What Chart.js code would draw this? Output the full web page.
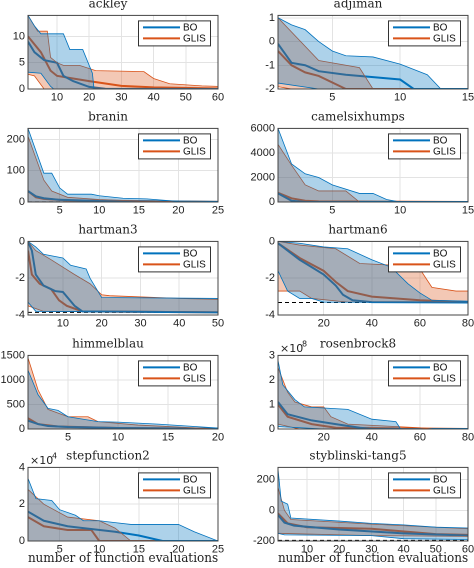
<!DOCTYPE html>
<html>
<head>
<meta charset="utf-8">
<script src="https://cdn.jsdelivr.net/npm/chart.js@4"></script>
<style>
body { margin: 0; background: #fff; }
#wrap { position: relative; width: 474px; height: 568px; overflow: hidden; }
canvas { position: absolute; }
.xl { position: absolute; font: 12px "DejaVu Serif", serif; color: #222; width: 220px; text-align: center; }
</style>
</head>
<body>
<div id="wrap"></div>
<script>
// data: [x, y] pairs per curve
var names = ["ackley", "adjiman", "branin", "camelsixhumps", "hartman3", "hartman6", "himmelblau", "rosenbrock8", "stepfunction2", "styblinski-tang5"];
var xMax = [60, 15, 25, 15, 50, 80, 20, 80, 25, 60];
var yMin = [0, -2, 0, 0, -4, -4, 0, 0, 0, -200];
var yMax = [14, 1.1, 235, 6000, 0, 0, 1500, 3, 4, 280];
var xTicks = [[10,20,30,40,50,60],[5,10,15],[5,10,15,20,25],[5,10,15],[10,20,30,40,50],[20,40,60,80],[5,10,15,20],[20,40,60,80],[5,10,15,20,25],[10,20,30,40,50,60]];
var yTicks = [[0,5,10],[-2,-1,0,1],[0,100,200],[0,2000,4000,6000],[-4,-2,0],[-4,-2,0],[0,500,1000,1500],[0,1,2,3],[0,2,4],[-200,0,200]];
var exponent = [null, null, null, null, null, null, null, "8", "4", null];
var optimum = [0, -2.02, 0.4, -1.03, -3.86, -3.32, 0, 0, 0, -195.8];

var boMean = [
  [[1,9],[3,7],[6,5.5],[10,5],[12,2.5],[15,1.5],[20,0.4],[25,0.05],[60,0]],
  [[1,-0.1],[2,-0.9],[3,-1],[4,-1.25],[6,-1.4],[10,-1.6],[11,-2],[15,-2]],
  [[1,35],[2,18],[3,12],[5,7],[10,3],[25,0.5]],
  [[1,700],[2,100],[3,0],[15,0]],
  [[1,0],[2,-0.5],[3,-1.8],[5,-2.4],[8,-2.7],[10,-2.75],[13,-3.5],[15,-3.8],[50,-3.86]],
  [[1,-0.1],[10,-1],[15,-1.4],[20,-1.8],[25,-2.4],[28,-2.9],[32,-3.2],[40,-3.3],[80,-3.32]],
  [[1,170],[2,100],[3,60],[5,40],[10,20],[20,5]],
  [[1,1.1],[5,0.6],[15,0.35],[25,0.2],[35,0.05],[40,0],[80,0]],
  [[1,1.6],[3,1.1],[6,0.8],[8,0.7],[12,0.5],[15,0.3],[18,0],[25,0]],
  [[1,-30],[3,-80],[6,-100],[20,-125],[40,-150],[60,-165]]
];
var boHi = [
  [[1,14],[3,12],[5,10.5],[12,10.5],[14,7.5],[18,7.5],[21,3],[21.5,0],[60,0]],
  [[1,1],[2,0.7],[3,0.5],[4,0],[5,-0.4],[6,-0.6],[8,-0.65],[10,-0.95],[12,-1.4],[13,-2],[15,-2]],
  [[1,235],[3,92],[4,92],[5,45],[6,25],[9,25],[10,20],[13,12],[16,10],[20,2],[25,0]],
  [[1,6000],[2,3100],[3,2300],[4,2000],[5,1400],[7,700],[8,700],[9,200],[10,0],[15,0]],
  [[1,0],[3,-0.3],[5,-0.7],[10,-0.9],[12,-1.3],[16,-1.5],[17,-2],[20,-3.05],[50,-3.1]],
  [[1,0],[10,-0.1],[20,-0.3],[30,-0.4],[40,-1],[48,-1.4],[55,-2.3],[60,-2.8],[65,-3.2],[80,-3.25]],
  [[1,1200],[2,700],[3,420],[4,380],[5,250],[8,150],[10,140],[14,100],[20,20]],
  [[1,2.8],[3,1.8],[8,1.2],[12,0.9],[30,0.8],[40,0.4],[50,0.3],[52,0],[80,0]],
  [[1,3.4],[2,2.3],[4,2.2],[5,1.7],[7,1.4],[8,1.1],[10,1.1],[12,1],[14,0.9],[20,0.9],[22,0.5],[25,0]],
  [[1,270],[2,60],[4,40],[5,-50],[20,-70],[30,-85],[40,-95],[50,-110],[60,-115]]
];
var boLo = [
  [[1,3.2],[5,3],[8,0.5],[9,0],[60,0]],
  [[1,-1.75],[4,-2],[15,-2]],
  [[1,0],[25,0]],
  [[1,0],[15,0]],
  [[1,-3.3],[3,-3.8],[50,-3.86]],
  [[1,-1.6],[5,-2.7],[10,-3.1],[15,-3.1],[20,-3.3],[80,-3.32]],
  [[1,0],[20,0]],
  [[1,0.1],[20,0],[80,0]],
  [[1,0],[25,0]],
  [[1,-150],[3,-160],[30,-165],[40,-185],[60,-190]]
];
var glisMean = [
  [[1,10],[5,7],[8,3.5],[10,2.5],[15,2],[20,1.5],[30,0.6],[40,0.3],[60,0.1]],
  [[1,-0.4],[2,-1],[3,-1.3],[4,-1.45],[6,-2],[15,-2]],
  [[1,35],[2,15],[3,10],[6,5],[25,0.5]],
  [[1,750],[2,300],[3,100],[4,50],[15,0]],
  [[1,-0.5],[2,-1.8],[4,-2.3],[7,-2.6],[9,-3.2],[11,-3.5],[15,-3.8],[50,-3.86]],
  [[1,-0.1],[10,-0.9],[20,-1.6],[25,-2.2],[30,-2.7],[40,-3],[60,-3.2],[80,-3.3]],
  [[1,220],[2,100],[4,50],[10,20],[20,5]],
  [[1,1],[5,0.5],[15,0.2],[25,0.05],[80,0]],
  [[1,1.3],[3,0.8],[6,0.6],[9,0.6],[10,0],[25,0]],
  [[1,-20],[4,-85],[10,-110],[30,-120],[50,-155],[60,-160]]
];
var glisHi = [
  [[1,14],[4,11],[7,11],[8,6],[10,5],[12,4.5],[17,4.5],[22,3.5],[37,3.3],[40,2],[45,1],[55,0.6],[60,0.5]],
  [[1,1],[4,-0.8],[7,-1.1],[8,-2],[15,-2]],
  [[1,210],[3,70],[4,35],[6,15],[10,8],[15,3],[25,0]],
  [[1,4700],[2,3000],[3,1400],[4,900],[6,900],[7,0],[15,0]],
  [[1,0],[3,-0.5],[7,-1],[13,-1.8],[17,-2.3],[20,-2.9],[22,-2.95],[40,-3.1],[50,-3.15]],
  [[1,0],[10,-0.2],[25,-0.4],[35,-1.2],[50,-1.3],[60,-1.5],[65,-2.5],[75,-2.7],[80,-2.7]],
  [[1,1450],[2,800],[3,400],[5,250],[7,250],[8,150],[12,80],[20,0]],
  [[1,2.5],[5,1.5],[8,1.1],[15,0.9],[20,0.9],[23,0.5],[30,0.2],[60,0.05],[66,0],[80,0]],
  [[1,2.8],[3,2],[6,1.3],[10,1.1],[12,0.7],[14,0],[25,0]],
  [[1,150],[3,0],[5,-60],[30,-90],[60,-120]]
];
var glisLo = [
  [[1,2.8],[3,2.5],[6,0],[60,0]],
  [[1,-1.9],[2,-2],[15,-2]],
  [[1,0],[25,0]],
  [[1,0],[15,0]],
  [[1,-3.5],[5,-3.8],[50,-3.86]],
  [[1,-2.7],[10,-2.7],[15,-3.1],[30,-3.3],[80,-3.32]],
  [[1,0],[20,0]],
  [[1,0.2],[10,0],[80,0]],
  [[1,0],[25,0]],
  [[1,-150],[30,-165],[60,-170]]
];

var colLeft = [28, 278], plotW = 190;
var rowTop = [15, 128, 241, 355, 467], plotH = 74;
var BO = "rgb(0,114,189)", GL = "rgb(217,83,25)";

function pts(a) { return a.map(p => ({ x: p[0], y: p[1] })); }

var legendBox = {
  id: "legendBox",
  afterDraw(chart) {
    var c = chart.ctx, a = chart.chartArea;
    c.save();
    c.strokeStyle = "#444"; c.lineWidth = 1;
    c.strokeRect(a.left, a.top, a.right - a.left, a.bottom - a.top);
    var x = a.right - 80, y = a.top + 5, w = 72, h = 25;
    c.fillStyle = "#fff"; c.fillRect(x, y, w, h);
    c.strokeStyle = "#333"; c.strokeRect(x + 0.5, y + 0.5, w, h);
    [[BO, "BO"], [GL, "GLIS"]].forEach(function (e, i) {
      var ly = y + 7 + i * 11;
      c.strokeStyle = e[0]; c.lineWidth = 2;
      c.beginPath(); c.moveTo(x + 5, ly); c.lineTo(x + 42, ly); c.stroke();
      c.fillStyle = "#111"; c.font = "10px 'Liberation Sans', Arial"; c.textBaseline = "middle";
      c.fillText(e[1], x + 45, ly + 0.5);
    });
    var ex = chart.options.plugins.legendBox.exp;
    if (ex) {
      c.fillStyle = "#222"; c.font = "11px 'DejaVu Sans'"; c.textBaseline = "bottom";
      c.fillText("\u00d710", a.left + 2, a.top - 1);
      c.font = "8px 'DejaVu Sans'"; c.fillText(ex, a.left + 24, a.top - 7);
    }
    c.restore();
  }
};

var wrap = document.getElementById("wrap");
names.forEach(function (name, i) {
  var col = i % 2, row = Math.floor(i / 2);
  var cv = document.createElement("canvas");
  var W = 30 + plotW + 10, H = 18 + plotH + 16;
  cv.style.left = (colLeft[col] - 30) + "px";
  cv.style.top = (rowTop[row] - 18) + "px";
  cv.width = W; cv.height = H;
  wrap.appendChild(cv);
  var band = function (hi, lo, c) {
    return [
      { data: pts(hi), borderColor: c, borderWidth: 0.8, backgroundColor: c.replace("rgb", "rgba").replace(")", ",0.32)"), fill: "+1", pointRadius: 0 },
      { data: pts(lo), borderColor: c, borderWidth: 0.8, pointRadius: 0, fill: false }
    ];
  };
  var ds = [].concat(
    band(boHi[i], boLo[i], BO),
    band(glisHi[i], glisLo[i], GL),
    [{ data: pts(boMean[i]), borderColor: BO, borderWidth: 2, pointRadius: 0, fill: false },
     { data: pts(glisMean[i]), borderColor: GL, borderWidth: 2, pointRadius: 0, fill: false },
     { data: pts([[1, optimum[i]], [xMax[i], optimum[i]]]), borderColor: "#000", borderWidth: 1, borderDash: [4, 3], pointRadius: 0, fill: false }]
  );
  new Chart(cv, {
    type: "line",
    data: { datasets: ds },
    plugins: [legendBox],
    options: {
      responsive: false, devicePixelRatio: 2, animation: false,
      layout: { padding: { left: 0, right: 10, top: 0, bottom: 0 } },
      elements: { line: { tension: 0 } },
      plugins: {
        legend: { display: false }, tooltip: { enabled: false },
        title: { display: true, text: name, color: "#222", font: { family: "DejaVu Serif", size: 12, weight: "normal" }, padding: { top: 0, bottom: 4 } },
        legendBox: { exp: exponent[i] }
      },
      scales: {
        x: {
          type: "linear", min: 1, max: xMax[i],
          afterBuildTicks: function (s) { s.ticks = xTicks[i].map(v => ({ value: v })); },
          afterFit: function (s) { s.height = 16; },
          grid: { color: "#e3e3e3", drawTicks: false }, border: { color: "#444" },
          ticks: { color: "#222", font: { size: 11, family: "Liberation Sans" }, padding: 2, maxRotation: 0, callback: v => String(v) }
        },
        y: {
          min: yMin[i], max: yMax[i],
          afterBuildTicks: function (s) { s.ticks = yTicks[i].map(v => ({ value: v })); },
          afterFit: function (s) { s.width = 30; },
          grid: { color: "#e3e3e3", drawTicks: false }, border: { color: "#444" },
          ticks: { color: "#222", font: { size: 11, family: "Liberation Sans" }, padding: 3, callback: v => String(v) }
        }
      }
    }
  });
});
[0, 1].forEach(function (col) {
  var d = document.createElement("div");
  d.className = "xl";
  d.textContent = "number of function evaluations";
  d.style.left = (colLeft[col] + plotW / 2 - 110) + "px";
  d.style.top = "551px";
  wrap.appendChild(d);
});
</script>
</body>
</html>
